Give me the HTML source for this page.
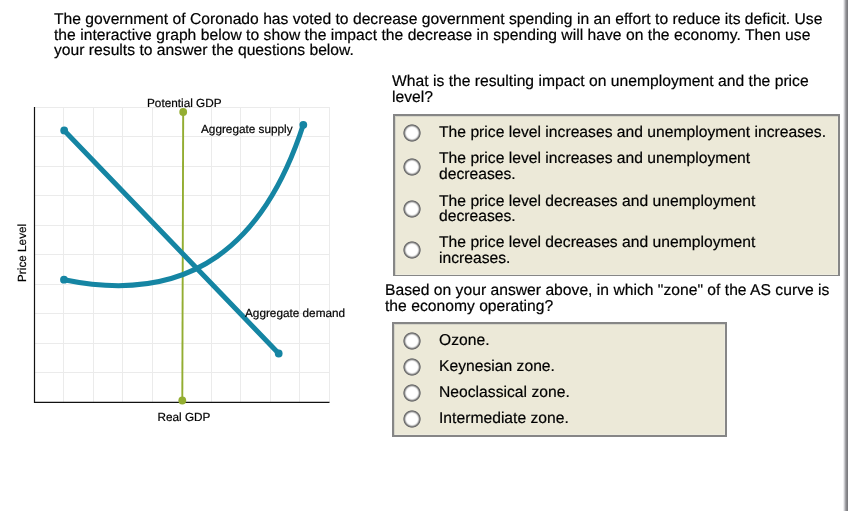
<!DOCTYPE html>
<html>
<head>
<meta charset="utf-8">
<title>Coronado</title>
<style>
html,body{margin:0;padding:0;background:#fff;}
body{width:848px;height:511px;position:relative;overflow:hidden;font-family:"Liberation Sans",sans-serif;color:#000;}
.t{-webkit-text-stroke:0.2px #000;will-change:transform;position:absolute;white-space:nowrap;text-rendering:geometricPrecision;font-size:15.66px;letter-spacing:0.012px;line-height:15.6px;}
.box{position:absolute;background:#868686;}
.box i{position:absolute;left:1.6px;top:1.6px;right:1.6px;bottom:1.6px;background:#ece9d8;box-shadow:inset 1px 1px 0 #d6d5c9, inset -1px -1px 0 #eeecdf;}
.r{position:absolute;width:20px;height:20px;margin:-1px 0 0 -1px;border-radius:50%;box-sizing:border-box;
background:radial-gradient(circle at 50% 50%, #ffffff 0, #ffffff 5.4px, #e0e0e0 6.3px, #949494 7.2px, #6e6e6e 7.9px, #727272 8.3px, rgba(114,114,114,0) 9px);}
#edge{position:absolute;right:0;top:0;width:5.5px;height:511px;background:linear-gradient(to right,#ffffff 0,#d4d4d8 25%,#a2a2a6 50%,#838387 75%,#77777b 100%);}
svg{position:absolute;left:0;top:0;will-change:transform;}
svg text{text-rendering:geometricPrecision;font-family:"Liberation Sans",sans-serif;font-size:11.78px;fill:#000;stroke:#000;stroke-width:0.2px;}
</style>
</head>
<body>
<div id="edge"></div>

<div class="t" style="left:54px;top:12px;letter-spacing:0.01px;">The government of Coronado has voted to decrease government spending in an effort to reduce its deficit. Use</div>
<div class="t" style="left:54px;top:28px;letter-spacing:0.023px;">the interactive graph below to show the impact the decrease in spending will have on the economy. Then use</div>
<div class="t" style="left:54px;top:43px;">your results to answer the questions below.</div>

<div class="t" style="left:392px;top:74px;">What is the resulting impact on unemployment and the price</div>
<div class="t" style="left:392px;top:90px;">level?</div>

<div class="box" style="left:393px;top:114.3px;width:447px;height:162.1px;"><i></i></div>
<div class="r" style="left:403px;top:123.5px;"></div>
<div class="r" style="left:403px;top:157.8px;"></div>
<div class="r" style="left:403px;top:199.5px;"></div>
<div class="r" style="left:403px;top:240.5px;"></div>
<div class="t" style="left:439px;top:125px;">The price level increases and unemployment increases.</div>
<div class="t" style="left:439px;top:151px;">The price level increases and unemployment</div>
<div class="t" style="left:439px;top:167px;">decreases.</div>
<div class="t" style="left:439px;top:194px;">The price level decreases and unemployment</div>
<div class="t" style="left:439px;top:209px;">decreases.</div>
<div class="t" style="left:439px;top:235px;">The price level decreases and unemployment</div>
<div class="t" style="left:439px;top:251px;">increases.</div>

<div class="t" style="left:385px;top:283px;">Based on your answer above, in which "zone" of the AS curve is</div>
<div class="t" style="left:385px;top:299px;">the economy operating?</div>

<div class="box" style="left:392px;top:322px;width:335px;height:114.6px;"><i></i></div>
<div class="r" style="left:403px;top:331.5px;"></div>
<div class="r" style="left:403px;top:357.5px;"></div>
<div class="r" style="left:403px;top:383.5px;"></div>
<div class="r" style="left:403px;top:409.5px;"></div>
<div class="t" style="left:439px;top:333px;">Ozone.</div>
<div class="t" style="left:439px;top:359px;">Keynesian zone.</div>
<div class="t" style="left:439px;top:385px;">Neoclassical zone.</div>
<div class="t" style="left:439px;top:411px;">Intermediate zone.</div>

<svg width="848" height="511" viewBox="0 0 848 511">
  <g stroke="#ebebeb" stroke-width="1" fill="none" shape-rendering="crispEdges">
    <path d="M63.5 107V402M93.5 107V402M122.5 107V402M152.5 107V402M182.5 107V402M211.5 107V402M240.5 107V402M270.5 107V402M299.5 107V402M329 107V402"/>
    <path d="M35 107.5H329.5M35 136.5H329.5M35 166.5H329.5M35 195.5H329.5M35 225.5H329.5M35 254.5H329.5M35 284.5H329.5M35 313.5H329.5M35 343.5H329.5M35 372.5H329.5"/>
  </g>
  <path d="M34.5 107V402.3H329.5" stroke="#111" stroke-width="1.2" fill="none"/>
  <!-- potential GDP -->
  <path d="M183.2 112L182.3 400.5" stroke="#93ad31" stroke-width="1.9" fill="none"/>
  <circle cx="183.2" cy="112" r="3.9" fill="#93ad31"/>
  <circle cx="182.3" cy="400.5" r="3.9" fill="#93ad31"/>
  <!-- AD -->
  <path d="M64.2 130.4L278.7 353.5" stroke="#1585a3" stroke-width="5" fill="none" stroke-linecap="round"/>
  <circle cx="64.2" cy="130.4" r="3.9" fill="#1585a3"/>
  <circle cx="278.7" cy="353.5" r="3.9" fill="#1585a3"/>
  <!-- AS -->
  <path d="M64.1 279.7C191.4 306 264.7 243.5 303.3 124.8" stroke="#1585a3" stroke-width="5" fill="none" stroke-linecap="round"/>
  <circle cx="64" cy="279.7" r="3.9" fill="#1585a3"/>
  <circle cx="303.3" cy="124.8" r="3.9" fill="#1585a3"/>
  <text x="147" y="107">Potential GDP</text>
  <text x="201" y="133">Aggregate supply</text>
  <text x="245" y="317">Aggregate demand</text>
  <text x="157.5" y="421">Real GDP</text>
  <text transform="translate(26,282) rotate(-90)">Price Level</text>
</svg>
</body>
</html>
